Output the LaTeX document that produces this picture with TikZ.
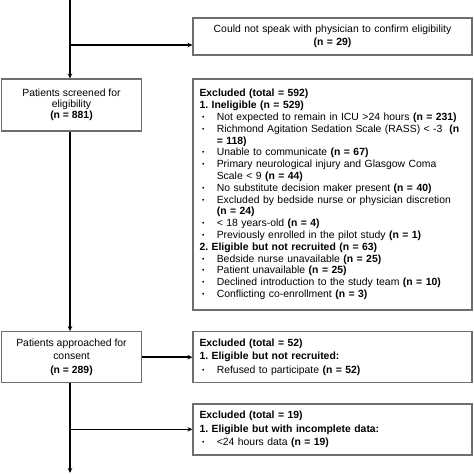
\documentclass[tikz,border=0pt]{standalone}
\usepackage{fontspec}
\setmainfont{Liberation Sans}
\usetikzlibrary{arrows.meta,positioning}
\definecolor{boxBorder}{HTML}{6E6E6E}
\frenchspacing
\newcommand{\bul}{\makebox[17.3pt][l]{\hspace{2.5pt}\raisebox{0.9pt}{\scalebox{0.65}{\textbullet}}}}
\newcommand{\nob}{\hspace*{17.3pt}}
\tikzset{
    % boxes of the main flow (left column)
    flowbox/.style={rectangle,draw=boxBorder,line width=1.1pt,fill=white,inner sep=0pt,minimum width=140pt,align=center,font=\fontsize{10.4}{11}\selectfont},
    % exclusion boxes (right column)
    exclbox/.style={rectangle,draw=boxBorder,line width=1.1pt,fill=white,inner xsep=6.5pt,inner ysep=0pt,text width=266pt,align=left,font=\fontsize{10.4}{13.3}\selectfont},
    flowline/.style={-{Stealth[length=5pt,width=4.5pt]},line width=1.5pt,black}
}

\begin{document}
\begin{tikzpicture}[x=1pt,y=-1pt]
    \useasboundingbox (0,0) rectangle (474,474);

    % Main column
    \node[flowbox,minimum height=52pt] (screened) at (71.5,105) {Patients screened for\\eligibility\\\textbf{(n = 881)}};
    \node[flowbox,minimum height=51pt,font=\fontsize{10.4}{13.3}\selectfont] (approached) at (71.5,357.2) {Patients approached for\\consent\\\textbf{(n = 289)}};

    % Exclusions
    \node[exclbox,minimum height=37pt,align=center] (nospeak) at (332.5,36.5) {Could not speak with physician to confirm eligibility\\\textbf{(n = 29)}};
    \node[exclbox,minimum height=231pt,font=\fontsize{10.4}{11.8}\selectfont] (exclscreen) at (332.5,194.5) {%
        \textbf{Excluded (total = 592)}\\
        \textbf{1. Ineligible (n = 529)}\\
        \bul Not expected to remain in ICU >24 hours \textbf{(n = 231)}\\
        \bul Richmond Agitation Sedation Scale (RASS) < -3 \ \textbf{(n}\\
        \nob\textbf{= 118)}\\
        \bul Unable to communicate \textbf{(n = 67)}\\
        \bul Primary neurological injury and Glasgow Coma\\
        \nob Scale < 9 \textbf{(n = 44)}\\
        \bul No substitute decision maker present \textbf{(n = 40)}\\
        \bul Excluded by bedside nurse or physician discretion\\
        \nob\textbf{(n = 24)}\\
        \bul < 18 years-old \textbf{(n = 4)}\\
        \bul Previously enrolled in the pilot study \textbf{(n = 1)}\\
        \textbf{2. Eligible but not recruited (n = 63)}\\
        \bul Bedside nurse unavailable \textbf{(n = 25)}\\
        \bul Patient unavailable \textbf{(n = 25)}\\
        \bul Declined introduction to the study team \textbf{(n = 10)}\\
        \bul Conflicting co-enrollment \textbf{(n = 3)}};
    \node[exclbox,minimum height=51pt] (exclconsent) at (332.5,357.2) {%
        \textbf{Excluded (total = 52)}\\
        \textbf{1. Eligible but not recruited:}\\
        \bul Refused to participate \textbf{(n = 52)}};
    \node[exclbox,minimum height=51pt] (excldata) at (332.5,429.5) {%
        \textbf{Excluded (total = 19)}\\
        \textbf{1. Eligible but with incomplete data:}\\
        \bul <24 hours data \textbf{(n = 19)}};

    % Connectors
    \coordinate (start) at (70,0);
    \coordinate (split1) at (70,45);
    \coordinate (split2) at (70,429.3);
    \coordinate (finish) at (70,473);
    \draw[flowline] (start) -- (start |- screened.north);
    \draw[flowline] (split1) -- (split1 -| nospeak.west);
    \draw[flowline] (screened.south -| start) -- (approached.north -| start);
    \draw[flowline] (approached.east) -- (exclconsent.west);
    \draw[flowline] (approached.south -| start) -- (finish);
    \draw[flowline] (split2) -- (split2 -| excldata.west);
\end{tikzpicture}
\end{document}
